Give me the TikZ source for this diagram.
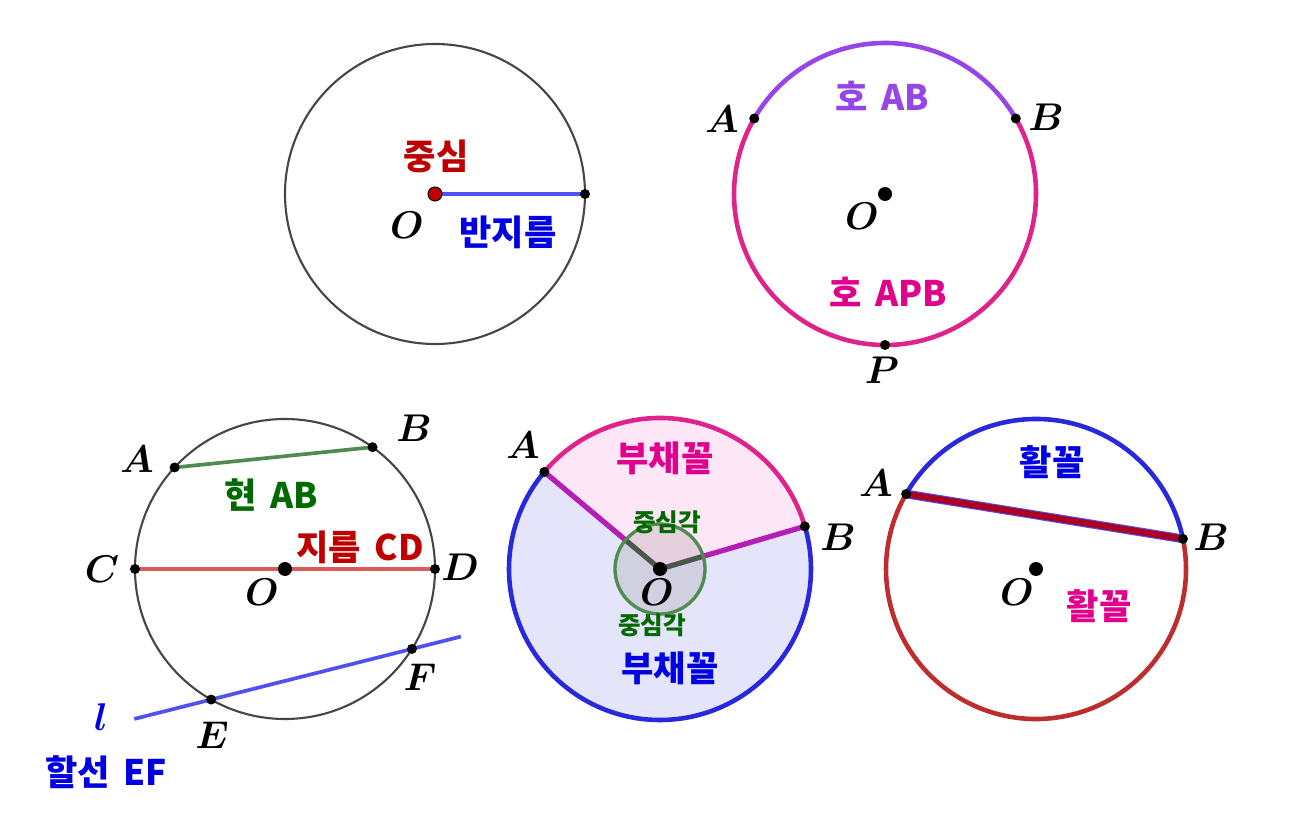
\documentclass[tikz,border=0pt]{standalone}
\usepackage{fix-cm}
\usepackage{fontspec}
\newfontfamily\krfont{Noto Sans CJK KR}
\usetikzlibrary{calc,positioning}

\definecolor{circgray}{RGB}{70,70,70}
\definecolor{radblue}{RGB}{80,80,245}
\definecolor{txtblue}{RGB}{0,0,225}
\definecolor{txtred}{RGB}{190,0,0}
\definecolor{arcpurple}{RGB}{150,70,230}
\definecolor{arcmagenta}{RGB}{222,35,140}
\definecolor{txtmagenta}{RGB}{225,0,140}
\definecolor{chordgreen}{RGB}{80,140,80}
\definecolor{txtgreen}{RGB}{0,105,0}
\definecolor{diamred}{RGB}{220,90,90}
\definecolor{sectpink}{RGB}{253,230,245}
\definecolor{sectlav}{RGB}{228,228,250}
\definecolor{arcblue}{RGB}{40,40,220}
\definecolor{radmagenta}{RGB}{180,30,180}
\definecolor{arcred}{RGB}{190,45,45}
\definecolor{segred}{RGB}{170,0,35}

\begin{document}
\begin{tikzpicture}[
  x=0.02cm, y=0.02cm,
  circ/.style={draw=circgray, line width=1.2pt},
  thickarc/.style={line width=2.6pt},
  seg/.style={line width=2.1pt},
  lbl/.style={font=\fontsize{22}{26}\selectfont\boldmath, inner sep=0pt},
  kor/.style={font=\krfont\bfseries\fontsize{20}{24}\selectfont, inner sep=0pt},
  korsmall/.style={font=\krfont\bfseries\fontsize{14}{16}\selectfont, inner sep=0pt}
]
\useasboundingbox (0,0) rectangle (1309,819);

% centres and points
\coordinate (O1) at (435,625);
\coordinate (O2) at (885,625);
\coordinate (O3) at (285,250);
\coordinate (O4) at (660,250);
\coordinate (O5) at (1036,250);
\coordinate (R1) at ($(O1)+(0:150)$);
\coordinate (A2) at ($(O2)+(150:151)$);
\coordinate (B2) at ($(O2)+(30:151)$);
\coordinate (P2) at ($(O2)+(270:151)$);
\coordinate (A3) at ($(O3)+(137.4:150)$);
\coordinate (B3) at ($(O3)+(54.3:150)$);
\coordinate (C3) at ($(O3)+(180:150)$);
\coordinate (D3) at ($(O3)+(0:150)$);
\coordinate (E3) at ($(O3)+(240.5:150)$);
\coordinate (F3) at ($(O3)+(-32.2:150)$);
\coordinate (l1) at ($(E3)!-0.383!(F3)$);
\coordinate (l2) at ($(E3)!1.244!(F3)$);
\coordinate (A4) at ($(O4)+(140:151)$);
\coordinate (B4) at ($(O4)+(16.4:151)$);
\coordinate (A5) at ($(O5)+(150:150)$);
\coordinate (B5) at ($(O5)+(11.6:150)$);

% circle 1: centre and radius
\draw[circ] (O1) circle[radius=150];
\draw[radblue, seg] (O1) -- (R1);
\node[kor, text=txtred] (centre1) at (436,663) {중심};
\node[kor, text=txtblue] (radius1) at (508,587) {반지름};
\node[lbl] (lO1) at (407,594) {$O$};

% circle 2: arcs
\draw[arcpurple, thickarc] (A2) arc[start angle=150, end angle=30, radius=151];
\draw[arcmagenta, thickarc] (B2) arc[start angle=30, end angle=-210, radius=151];
\node[kor, text=arcpurple] (arcAB) at (882,723) {호\, AB};
\node[kor, text=txtmagenta] (arcAPB) at (888,527) {호\, APB};
\node[lbl] (lA2) at (722,700) {$A$};
\node[lbl] (lB2) at (1046,702) {$B$};
\node[lbl] (lO2) at (862,603) {$O$};
\node[lbl] (lP2) at (882,449) {$P$};

% circle 3: chord, diameter, secant
\draw[circ] (O3) circle[radius=150];
\draw[chordgreen, seg] (A3) -- (B3);
\draw[diamred, seg] (C3) -- (D3);
\draw[radblue, seg] (l1) -- (l2);
\node[kor, text=txtgreen] (chordAB) at (271,324) {현\, AB};
\node[kor, text=txtred] (diamCD) at (360,272) {지름\, CD};
\node[kor, text=txtblue] (secantEF) at (106,47) {할선\, EF};
\node[lbl, text=txtblue] (ll) at (101,102) {$l$};
\node[lbl] (lA3) at (137,360) {$A$};
\node[lbl] (lB3) at (414,391) {$B$};
\node[lbl] (lC3) at (102,250) {$C$};
\node[lbl] (lD3) at (460,252) {$D$};
\node[lbl] (lO3) at (262,227) {$O$};
\node[lbl] (lE3) at (212,84) {$E$};
\node[lbl] (lF3) at (420,142) {$F$};

% circle 4: sectors
\fill[sectpink] (O4) -- (B4) arc[start angle=16.4, end angle=140, radius=151] -- cycle;
\fill[sectlav] (O4) -- (A4) arc[start angle=140, end angle=376.4, radius=151] -- cycle;
\fill[gray, fill opacity=0.2] (O4) circle[radius=45];
\draw[radmagenta, line width=3pt] (A4) -- (O4) -- (B4);
\draw[chordgreen!70!black, line width=2.4pt] ($(O4)+(140:45)$) -- (O4) -- ($(O4)+(16.4:45)$);
\draw[chordgreen, line width=1.9pt] (O4) circle[radius=45];
\draw[arcmagenta, thickarc] (B4) arc[start angle=16.4, end angle=140, radius=151];
\draw[arcblue, thickarc] (A4) arc[start angle=140, end angle=376.4, radius=151];
\node[kor, text=txtmagenta] (sectTop) at (665,361) {부채꼴};
\node[kor, text=txtblue] (sectBot) at (670,151) {부채꼴};
\node[korsmall, text=txtgreen] (angTop) at (667,297) {중심각};
\node[korsmall, text=txtgreen] (angBot) at (652,194) {중심각};
\node[lbl] (lA4) at (523,374) {$A$};
\node[lbl] (lB4) at (838,282) {$B$};
\node[lbl] (lO4) at (657,227) {$O$};

% circle 5: segments
\draw[arcblue, thickarc] (A5) arc[start angle=150, end angle=11.6, radius=150];
\draw[arcred, thickarc] (B5) arc[start angle=11.6, end angle=-210, radius=150];
\draw[radblue, line width=5pt] (A5) -- (B5);
\draw[segred, line width=3.8pt] (A5) -- (B5);
\node[kor, text=txtblue] (segTop) at (1052,357) {활꼴};
\node[kor, text=txtmagenta] (segBot) at (1099,213) {활꼴};
\node[lbl] (lA5) at (876,336) {$A$};
\node[lbl] (lB5) at (1211,282) {$B$};
\node[lbl] (lO5) at (1017,227) {$O$};

% dots
\foreach \p in {R1,A2,B2,P2,A3,B3,C3,D3,E3,F3,A4,B4,A5,B5}
  \fill (\p) circle[radius=5];
\foreach \p in {O2,O3,O4,O5}
  \fill (\p) circle[radius=7];
\filldraw[fill=txtred, draw=black, line width=0.6pt] (O1) circle[radius=7];
\end{tikzpicture}
\end{document}
